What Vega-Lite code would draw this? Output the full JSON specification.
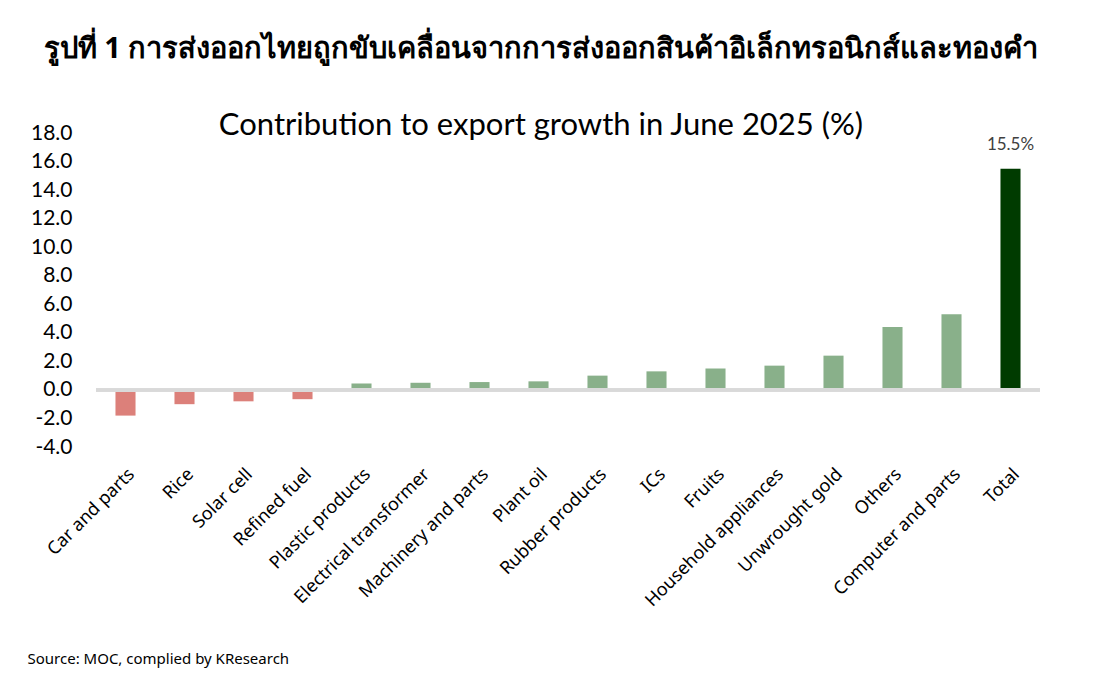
{
  "$schema": "https://vega.github.io/schema/vega-lite/v6.json",
  "width": 944,
  "height": 314,
  "autosize": {"type": "none"},
  "padding": {"left": 96, "top": 133, "right": 54, "bottom": 245},
  "background": "white",
  "title": {
    "text": "รูปที่ 1 การส่งออกไทยถูกขับเคลื่อนจากการส่งออกสินค้าอิเล็กทรอนิกส์และทองคำ",
    "subtitle": "Contribution to export growth in June 2025 (%)",
    "anchor": "middle",
    "frame": "group",
    "dx": -27,
    "offset": -19,
    "font": "Noto Sans",
    "fontSize": 29,
    "fontWeight": "bold",
    "color": "black",
    "subtitleFont": "Lato",
    "subtitleFontSize": 31,
    "subtitleColor": "black",
    "subtitlePadding": 47
  },
  "data": {
    "values": [
      {"item": "Car and parts", "value": -1.8, "group": "neg"},
      {"item": "Rice", "value": -1.0, "group": "neg"},
      {"item": "Solar cell", "value": -0.8, "group": "neg"},
      {"item": "Refined fuel", "value": -0.65, "group": "neg"},
      {"item": "Plastic products", "value": 0.45, "group": "pos"},
      {"item": "Electrical transformer", "value": 0.5, "group": "pos"},
      {"item": "Machinery and parts", "value": 0.55, "group": "pos"},
      {"item": "Plant oil", "value": 0.6, "group": "pos"},
      {"item": "Rubber products", "value": 1.0, "group": "pos"},
      {"item": "ICs", "value": 1.3, "group": "pos"},
      {"item": "Fruits", "value": 1.5, "group": "pos"},
      {"item": "Household appliances", "value": 1.7, "group": "pos"},
      {"item": "Unwrought gold", "value": 2.4, "group": "pos"},
      {"item": "Others", "value": 4.4, "group": "pos"},
      {"item": "Computer and parts", "value": 5.3, "group": "pos"},
      {"item": "Total", "value": 15.5, "group": "total", "label": "15.5%"}
    ]
  },
  "config": {
    "view": {"stroke": null},
    "axis": {"labelOverlap": false},
    "axisY": {
      "labelOverlap": false,
      "values": [-4, -2, 0, 2, 4, 6, 8, 10, 12, 14, 16, 18],
      "labelExpr": "replace(format(datum.value, '.1f'), '−', '-')",
      "grid": false,
      "domain": false,
      "ticks": false,
      "labelFont": "Lato",
      "labelFontSize": 21,
      "labelColor": "black",
      "labelPadding": 24,
      "title": null
    }
  },
  "layer": [
    {
      "mark": {"type": "bar"},
      "encoding": {
        "x": {
          "field": "item",
          "type": "nominal",
          "sort": null,
          "scale": {"paddingInner": 0.66, "paddingOuter": 0.33},
          "axis": {
            "title": "Source: MOC, complied by KResearch",
            "titleAnchor": "start",
            "titleAlign": "left",
            "titleBaseline": "middle",
            "titleX": -69,
            "titleY": 211,
            "titleFont": "Noto Sans",
            "titleFontSize": 15,
            "titleFontWeight": "normal",
            "titleColor": "black",
            "labelAngle": -45,
            "labelFont": "Noto Sans",
            "labelFontSize": 18,
            "labelColor": "black",
            "labelPadding": 18,
            "labelLimit": 400,
            "labelOverlap": false,
            "ticks": false,
            "domain": false
          }
        },
        "y": {
          "field": "value",
          "type": "quantitative",
          "scale": {"domain": [-4, 18], "nice": false},
          "axis": {"title": null, "labelOverlap": false}
        },
        "color": {
          "field": "group",
          "type": "nominal",
          "scale": {"domain": ["neg", "pos", "total"], "range": ["#dc807a", "#89b08a", "#003b00"]},
          "legend": null
        }
      }
    },
    {
      "mark": {"type": "rule", "color": "#d9d9d9", "strokeWidth": 3},
      "encoding": {"y": {"datum": 0, "axis": {"title": null, "labelOverlap": false}}}
    },
    {
      "transform": [{"filter": "isValid(datum.label)"}],
      "mark": {"type": "text", "dy": -24, "font": "Lato", "fontSize": 17, "color": "#404040"},
      "encoding": {
        "x": {"field": "item", "type": "nominal", "sort": null},
        "y": {"field": "value", "type": "quantitative", "axis": {"title": null, "labelOverlap": false}},
        "text": {"field": "label"}
      }
    }
  ]
}
